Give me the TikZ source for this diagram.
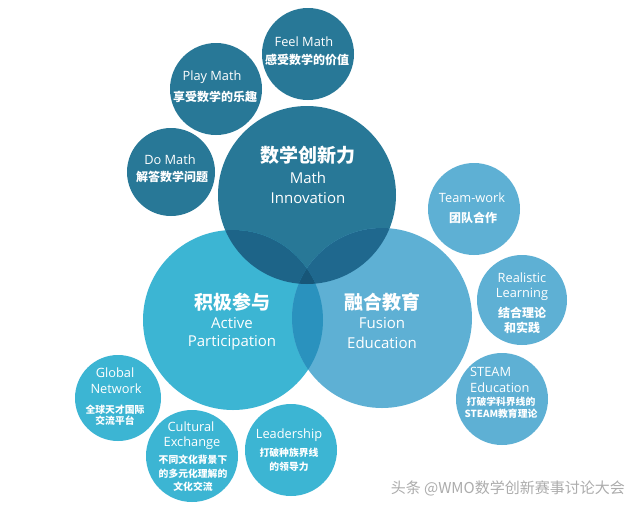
\documentclass[tikz,border=0pt]{standalone}
\usepackage{fontspec}
\setmainfont{Open Sans}
\newfontfamily\cjk{Noto Sans CJK SC}
\definecolor{mathblue}{RGB}{40,120,151}
\definecolor{activecyan}{RGB}{60,181,211}
\definecolor{fusionblue}{RGB}{94,176,212}
\definecolor{lensleft}{RGB}{29,100,136}
\definecolor{lensright}{RGB}{31,104,142}
\definecolor{lensbottom}{RGB}{42,146,190}
\definecolor{lenscore}{RGB}{23,86,120}
\begin{document}
\begin{tikzpicture}[x=1pt,y=-1pt,
  disc/.style={circle,fill=#1,minimum size=92pt,inner sep=0pt},
  en/.style={text=white,inner sep=0pt,font=\fontsize{12.8}{13}\selectfont},
  zh/.style={text=white,inner sep=0pt,font=\cjk\bfseries\fontsize{12}{12}\selectfont},
  zhs/.style={text=white,inner sep=0pt,font=\cjk\bfseries\fontsize{9.8}{10}\selectfont},
  bigen/.style={text=white,inner sep=0pt,font=\fontsize{15}{15}\selectfont},
  bigzh/.style={text=white,inner sep=0pt,font=\cjk\bfseries\fontsize{19}{19}\selectfont}]
\useasboundingbox[fill=white] (0,0) rectangle (640,512);

% three big circles
\coordinate (innov) at (307,195);
\coordinate (active) at (233,320);
\coordinate (fusion) at (382,318);
\fill[mathblue] (innov) circle[radius=89pt];
\fill[activecyan] (active) circle[radius=90pt];
\fill[fusionblue] (fusion) circle[radius=90pt];
\begin{scope}
  \clip (innov) circle[radius=89pt];
  \fill[lensleft] (active) circle[radius=90pt];
  \fill[lensright] (fusion) circle[radius=90pt];
\end{scope}
\begin{scope}
  \clip (active) circle[radius=90pt];
  \fill[lensbottom] (fusion) circle[radius=90pt];
  \clip (fusion) circle[radius=90pt];
  \fill[lenscore] (innov) circle[radius=89pt];
\end{scope}

% small circles
\node[disc=mathblue] (feel) at (308,54) {};
\node[disc=mathblue] (play) at (216,89) {};
\node[disc=mathblue,minimum size=88pt] (domath) at (171,172) {};
\node[disc=fusionblue] (team) at (474,209) {};
\node[disc=fusionblue,minimum size=90pt] (real) at (522,300) {};
\node[disc=fusionblue] (steam) at (502,399) {};
\node[disc=activecyan,minimum size=86pt] (global) at (118,398) {};
\node[disc=activecyan] (culture) at (192,456) {};
\node[disc=activecyan] (lead) at (291,450) {};

% texts
\node[bigzh] (innovzh) at (308,155) {数学创新力};
\node[bigen] (innoven1) at (308,178) {Math};
\node[bigen] (innoven2) at (308,198) {Innovation};
\node[bigzh] (activezh) at (232,302) {积极参与};
\node[bigen] (activeen1) at (232,323) {Active};
\node[bigen] (activeen2) at (232,343) {Participation};
\node[bigzh] (fusionzh) at (382,302) {融合教育};
\node[bigen] (fusionen1) at (382,323) {Fusion};
\node[bigen] (fusionen2) at (382,343) {Education};

\node[en] (feelen) at (304,42) {Feel Math};
\node[zh] (feelzh) at (307,60) {感受数学的价值};
\node[en] (playen) at (212,77) {Play Math};
\node[zh] (playzh) at (215,97) {享受数学的乐趣};
\node[en] (domathen) at (170,160) {Do Math};
\node[zh] (domathzh) at (172,177) {解答数学问题};

\node[en] (teamen) at (472,198) {Team-work};
\node[zh] (teamzh) at (473,218) {团队合作};
\node[en] (realen1) at (522,278) {Realistic};
\node[en] (realen2) at (522,294) {Learning};
\node[zh] (realzh1) at (522,313) {结合理论};
\node[zh] (realzh2) at (522,328) {和实践};
\node[en,anchor=west] (steamen1) at (470,372) {STEAM};
\node[en,anchor=west] (steamen2) at (470,388) {Education};
\node[zhs] (steamzh1) at (501,402) {打破学科界线的};
\node[zhs] (steamzh2) at (501,414) {STEAM教育理论};

\node[en] (globalen1) at (115,373) {Global};
\node[en] (globalen2) at (116,389) {Network};
\node[zhs] (globalzh1) at (115,410) {全球天才国际};
\node[zhs] (globalzh2) at (115,421) {交流平台};
\node[en] (cultureen1) at (191,427) {Cultural};
\node[en] (cultureen2) at (192,443) {Exchange};
\node[zhs] (culturezh1) at (193,460) {不同文化背景下};
\node[zhs] (culturezh2) at (193,474) {的多元化理解的};
\node[zhs] (culturezh3) at (193,487) {文化交流};
\node[en] (leaden) at (289,435) {Leadership};
\node[zhs] (leadzh1) at (289,453) {打破种族界线};
\node[zhs] (leadzh2) at (289,467) {的领导力};

% watermark
\node[text=gray!65,inner sep=0pt,font=\cjk\fontsize{15}{15}\selectfont,anchor=east] (mark) at (625,488) {头条 @WMO数学创新赛事讨论大会};
\end{tikzpicture}
\end{document}
